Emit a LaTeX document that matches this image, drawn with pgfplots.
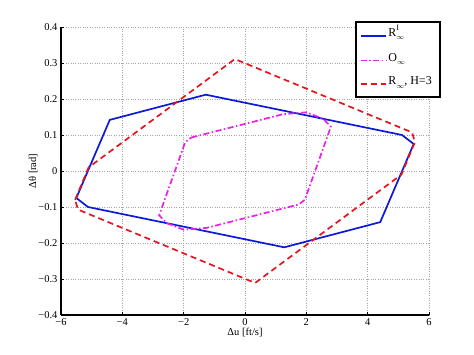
\documentclass[border=0pt]{standalone}
\usepackage{pgfplots}
\pgfplotsset{compat=1.18}
\usepackage{fontspec}
\setmainfont{Liberation Serif}
\definecolor{cblue}{rgb}{0.05,0.1,0.85}
\definecolor{cmag}{rgb}{0.92,0.12,0.92}
\definecolor{cred}{rgb}{0.9,0.08,0.12}
\newcommand{\subinf}{\raisebox{-3.5pt}{\fontsize{7}{8}\selectfont$\infty$}}
\begin{document}
\begin{tikzpicture}
\begin{axis}[
  scale only axis, width=368pt, height=288pt,
  anchor=south west, at={(0pt,0pt)},
  xmin=-6, xmax=6, ymin=-0.4, ymax=0.4,
  axis lines=left, axis line style={-, line width=1.4pt},
  xtick={-6,-4,-2,0,2,4,6},
  xticklabels={−6,−4,−2,0,2,4,6},
  ytick={-0.4,-0.3,-0.2,-0.1,0,0.1,0.2,0.3,0.4},
  yticklabels={−0.4,−0.3,−0.2,−0.1,0,0.1,0.2,0.3,0.4},
  tick align=inside, major tick length=3pt,
  tick style={black, line width=0.7pt},
  ticklabel style={font=\fontsize{10.5}{12}\selectfont},
  grid=major, major grid style={dotted, gray!70, line width=0.7pt},
  xlabel={Δu [ft/s]}, ylabel={Δθ [rad]},
  label style={font=\fontsize{10.5}{12}\selectfont},
  xlabel style={yshift=4pt},
  ylabel style={yshift=-6pt},
  clip=false,
]
\addplot[draw=cblue, line width=1.7pt] coordinates {
(-5.50,-0.075) (-4.41,0.142) (-1.28,0.212) (5.12,0.100) (5.50,0.075)
(4.41,-0.142) (1.28,-0.212) (-5.12,-0.100) (-5.50,-0.075)};
\addplot[draw=cmag, line width=1.7pt, dash pattern=on 6pt off 2.5pt on 1.5pt off 2.5pt] coordinates {
(-1.75,0.093) (1.25,0.158) (2.0,0.163) (2.55,0.145) (2.80,0.123)
(1.95,-0.080) (1.75,-0.093) (-1.25,-0.158) (-2.0,-0.163) (-2.55,-0.145) (-2.80,-0.123)
(-1.95,0.080) (-1.75,0.093)};
\addplot[draw=cred, line width=1.7pt, dash pattern=on 6pt off 4pt] coordinates {
(-5.54,-0.080) (-5.10,0.010) (-0.33,0.311) (5.45,0.107) (5.54,0.080)
(5.10,-0.010) (0.33,-0.311) (-5.45,-0.107) (-5.54,-0.080)};
% legend
\draw[fill=white, draw=black, line width=1.4pt] (axis description cs:0.8016,1.0174) rectangle (axis description cs:1.0299,0.7569);
\draw[cblue, line width=1.5pt] (axis description cs:0.815,0.9688) -- (axis description cs:0.883,0.9688);
\draw[cmag, line width=1.5pt, dash pattern=on 6pt off 2.5pt on 1.5pt off 2.5pt] (axis description cs:0.815,0.883) -- (axis description cs:0.883,0.883);
\draw[cred, line width=1.5pt, dash pattern=on 6pt off 4pt] (axis description cs:0.815,0.802) -- (axis description cs:0.883,0.802);
\node[anchor=base west, inner sep=0pt, font=\fontsize{12}{14}\selectfont] at ([yshift=-0.5pt]axis description cs:0.889,0.9688) {R\rlap{\raisebox{6pt}{\fontsize{8}{9}\selectfont I}}\subinf};
\node[anchor=base west, inner sep=0pt, font=\fontsize{12}{14}\selectfont] at ([yshift=-0.5pt]axis description cs:0.889,0.883) {O\subinf};
\node[anchor=base west, inner sep=0pt, font=\fontsize{12}{14}\selectfont] at ([yshift=-0.5pt]axis description cs:0.889,0.802) {R\subinf, H=3};
\end{axis}
\path (-61pt,-40pt) rectangle (413pt,315pt);
\end{tikzpicture}
\end{document}
